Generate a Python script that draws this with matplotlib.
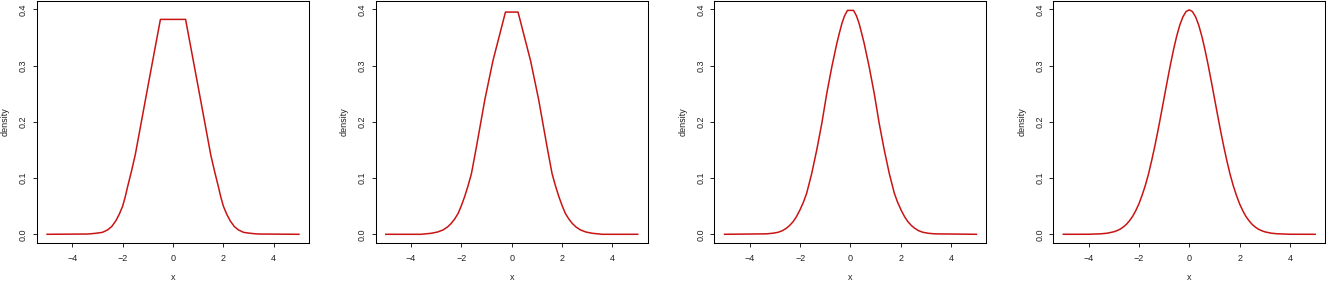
import matplotlib
matplotlib.use("Agg")
import matplotlib.pyplot as plt
import numpy as np

plt.rcParams['font.family'] = ['Liberation Sans', 'DejaVu Sans']

# left halves (curves are symmetric about 0)
x1_left = [-5.0, -3.4, -3.25, -3.07, -2.95, -2.8, -2.6, -2.43, -2.27, -2.13, -2.0,
           -1.9, -1.8, -1.65, -1.5, -1.0, -0.5]
y1_left = [0.0, 0.0005, 0.001, 0.0018, 0.0025, 0.0035, 0.0077, 0.014, 0.024, 0.036, 0.05,
           0.066, 0.085, 0.112, 0.141, 0.262, 0.382]

x2_left = [-5.0, -3.6, -3.2, -2.95, -2.73, -2.55, -2.4, -2.27, -2.13, -2.0, -1.87,
           -1.73, -1.6, -1.4, -1.07, -0.75, -0.25]
y2_left = [0.0, 0.0, 0.0018, 0.004, 0.0077, 0.013, 0.0195, 0.027, 0.037, 0.051, 0.067,
           0.087, 0.108, 0.156, 0.239, 0.308, 0.395]

x3_left = [-5.0, -3.34, -3.1, -2.88, -2.7, -2.55, -2.42, -2.28, -2.15, -2.01, -1.87,
           -1.74, -1.54, -1.34, -1.14, -0.94, -0.74, -0.54, -0.44, -0.34, -0.24, -0.12]
y3_left = [0.0, 0.0008, 0.0018, 0.0035, 0.0065, 0.0107, 0.0155, 0.0224, 0.031, 0.043, 0.057,
           0.073, 0.108, 0.150, 0.197, 0.251, 0.298, 0.340, 0.358, 0.375, 0.388, 0.398]

x4_left = [-5.0, -4.0, -3.5, -3.25, -3.0, -2.875, -2.75, -2.625, -2.5, -2.375, -2.25,
           -2.125, -2.0, -1.875, -1.75, -1.625, -1.5, -1.375, -1.25, -1.125, -1.0,
           -0.875, -0.75, -0.625, -0.5, -0.375, -0.25, -0.125, 0.0]
y4_left = [0.0, 0.0001, 0.0009, 0.002, 0.0044, 0.0064, 0.009, 0.0127, 0.0175, 0.024, 0.0317,
           0.042, 0.054, 0.069, 0.086, 0.106, 0.1295, 0.155, 0.1826, 0.212, 0.242,
           0.272, 0.301, 0.328, 0.352, 0.372, 0.3867, 0.396, 0.399]

x_ticks = [-4, -2, 0, 2, 4]
y_ticks = [0.0, 0.1, 0.2, 0.3, 0.4]
y_ticklabels = ["0.0", "0.1", "0.2", "0.3", "0.4"]


def mirror(xs, ys):
    xs = np.array(xs, dtype=float)
    ys = np.array(ys, dtype=float)
    if xs[-1] == 0.0:
        xr, yr = -xs[-2::-1], ys[-2::-1]
    else:
        xr, yr = -xs[::-1], ys[::-1]
    return np.concatenate([xs, xr]), np.concatenate([ys, yr])


curves = [mirror(x1_left, y1_left), mirror(x2_left, y2_left),
          mirror(x3_left, y3_left), mirror(x4_left, y4_left)]

W, H = 1327, 281
fig = plt.figure(figsize=(W / 100, H / 100), dpi=100)

ax_w = 272 / W
ax_b = (H - 243.3) / H
ax_h = (243.3 - 0.5) / H

for k, (xs, ys) in enumerate(curves):
    left = (37 + 338.75 * k) / W
    ax = fig.add_axes([left, ax_b, ax_w, ax_h])
    ax.plot(xs, ys, color='#C81414', lw=1.1)
    ax.set_xlim(-5.4, 5.4)
    ax.set_ylim(-0.016, 0.4156)
    ax.set_xticks(x_ticks)
    ax.set_yticks(y_ticks)
    ax.set_yticklabels(y_ticklabels, rotation=90, va='center')
    ax.tick_params(length=3, width=0.6, labelsize=6.5, pad=4.5, labelcolor='#222222')
    ax.tick_params(axis='y', pad=3.5)
    for s in ax.spines.values():
        s.set_linewidth(0.75)
    ax.set_xlabel("x", fontsize=6.5, labelpad=7.5, color='#222222')
    ax.set_ylabel("density", fontsize=6.5, labelpad=6.5, color='#222222')

fig.savefig("out.png", dpi=100)
